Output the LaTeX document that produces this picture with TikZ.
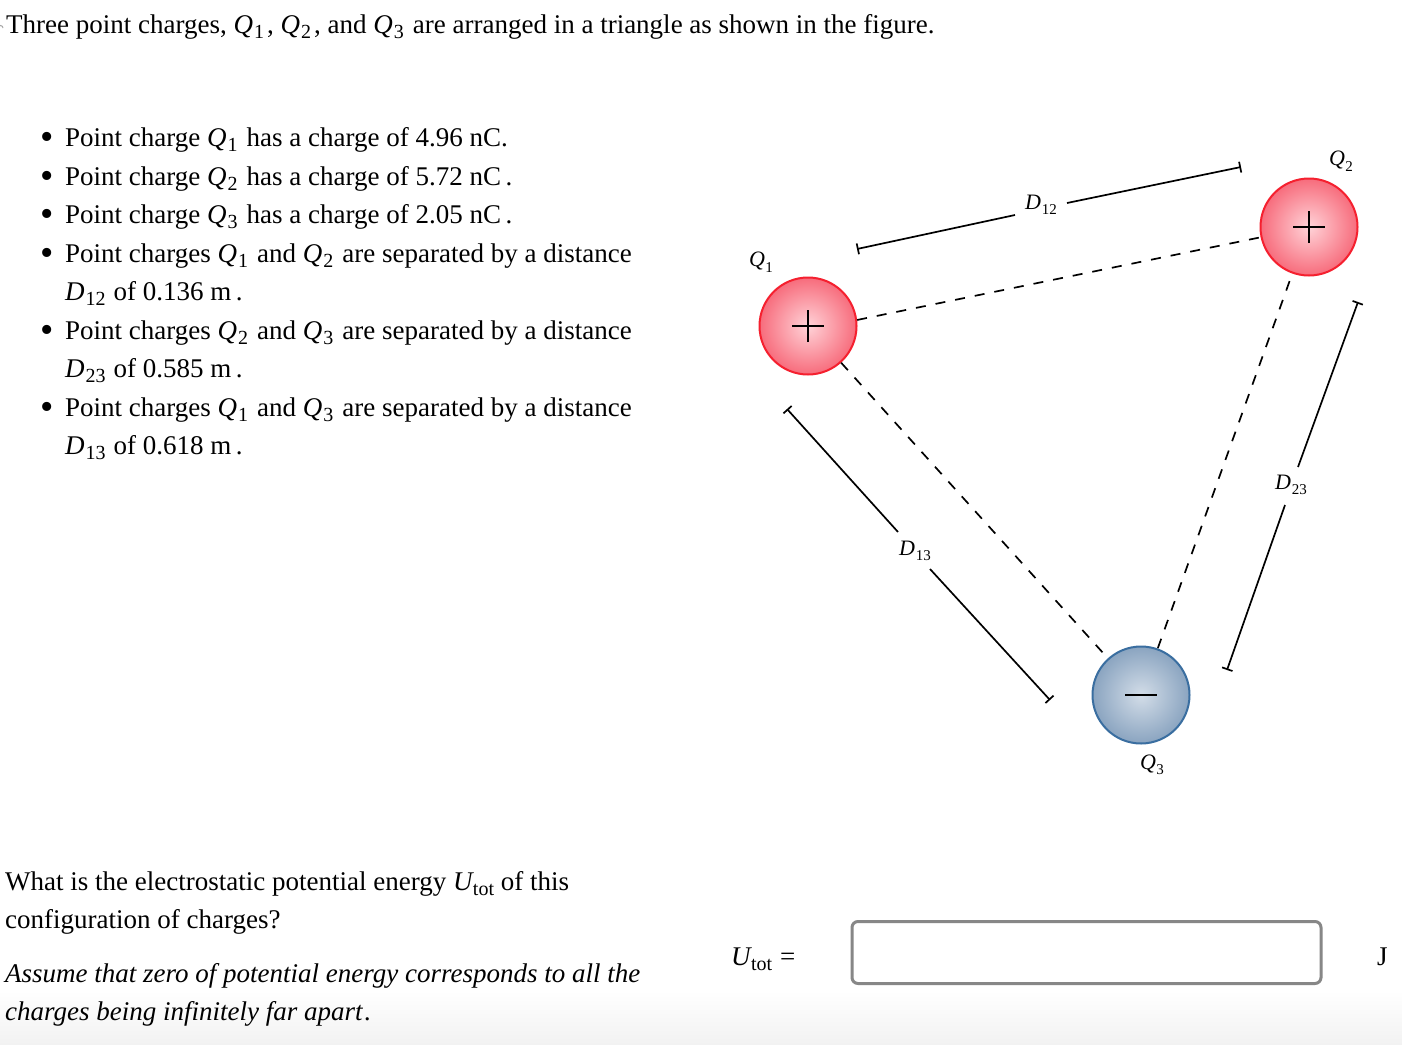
\documentclass[tikz,border=0pt]{standalone}
\usepackage{fontspec}
\setmainfont{Liberation Serif}
\usetikzlibrary{arrows.meta}
\definecolor{redIn}{HTML}{FFD3D8}
\definecolor{redOut}{HTML}{F76C7C}
\definecolor{redLine}{HTML}{F5202F}
\definecolor{blueIn}{HTML}{D3DDE8}
\definecolor{blueOut}{HTML}{8AA4C0}
\definecolor{blueLine}{HTML}{3A6EA0}
\pgfdeclareradialshading{redball}{\pgfpoint{0bp}{0bp}}{color(0bp)=(redIn); color(25bp)=(redOut); color(50bp)=(redOut)}
\pgfdeclareradialshading{blueball}{\pgfpoint{0bp}{0bp}}{color(0bp)=(blueIn); color(25bp)=(blueOut); color(50bp)=(blueOut)}
\newcommand{\Qq}[1]{\textit{Q}\kern1pt\raisebox{-5pt}{\fontsize{20}{20}\selectfont #1}\kern3pt}
\newcommand{\Qs}[1]{\textit{Q}\kern1pt\raisebox{-5pt}{\fontsize{20}{20}\selectfont #1}\kern9pt}
\newcommand{\Dd}[1]{\textit{D}\kern1pt\raisebox{-5pt}{\fontsize{20}{20}\selectfont #1}\kern8pt}
\newcommand{\Ut}{\textit{U}\kern-1pt\raisebox{-5pt}{\fontsize{20}{20}\selectfont tot}}
\newcommand{\Fq}[1]{\textit{Q}\kern.5pt\raisebox{-5.5pt}{\fontsize{15}{15}\selectfont #1}}
\newcommand{\Fd}[1]{\textit{D}\kern1pt\raisebox{-5pt}{\fontsize{15}{15}\selectfont #1}}
\tikzset{
 txt/.style={anchor=base west,inner sep=0pt,font=\fontsize{27}{27}\selectfont},
 bulletmark/.style={anchor=base west,inner sep=0pt,font=\fontsize{38}{38}\selectfont},
 lbl/.style={inner sep=3pt,font=\fontsize{22}{22}\selectfont},
 redq/.style={circle,minimum size=97pt,inner sep=0pt,draw=redLine,line width=2pt,shading=redball},
 blueq/.style={circle,minimum size=97pt,inner sep=0pt,draw=blueLine,line width=2pt,shading=blueball},
 sep/.style={line width=1.7pt,dash pattern=on 10pt off 10pt},
 dim/.style={line width=1.7pt,-{Bar[width=11pt,line width=1.7pt]}},
 sign/.style={line width=2.8pt}
}
\begin{document}
\begin{tikzpicture}[x=1pt,y=-1pt]
\useasboundingbox (0,0) rectangle (1402,1044);
\fill[white] (0,0) rectangle (1402,1044);
\shade[top color=white,bottom color=black!5,draw=none] (0,990) rectangle (1402,1044);
\draw[gray!70,line width=1pt] (3,28) arc (0:-160:2.5);

\node[txt] (title) at (6,33) {Three point charges, \Qq{1}, \Qq{2}, and \Qs{3}are arranged in a triangle as shown in the figure.};

\foreach \n/\y in {1/149.5,2/188.5,3/226.5,4/265.5,5/342.5,6/419.5}
  \node[bulletmark] (bul\n) at (40.4,\y) {•};
\node[txt] (l1) at (65,146) {Point charge \Qs{1}has a charge of 4.96 nC.};
\node[txt] (l2) at (65,185) {Point charge \Qs{2}has a charge of 5.72 nC\,.};
\node[txt] (l3) at (65,223) {Point charge \Qs{3}has a charge of 2.05 nC\,.};
\node[txt] (l4) at (65,262) {Point charges \Qs{1}and \Qs{2}are separated by a distance};
\node[txt] (l5) at (65,300) {\Dd{12}of 0.136 m\,.};
\node[txt] (l6) at (65,339) {Point charges \Qs{2}and \Qs{3}are separated by a distance};
\node[txt] (l7) at (65,377.5) {\Dd{23}of 0.585 m\,.};
\node[txt] (l8) at (65,416) {Point charges \Qs{1}and \Qs{3}are separated by a distance};
\node[txt] (l9) at (65,454.5) {\Dd{13}of 0.618 m\,.};

\node[txt] (w1) at (5,890) {What is the electrostatic potential energy \Ut{} of this};
\node[txt] (w2) at (5,928) {configuration of charges?};
\node[txt,font=\fontsize{27}{27}\selectfont\itshape] (w3) at (5,982) {Assume that zero of potential energy corresponds to all the};
\node[txt,font=\fontsize{27}{27}\selectfont\itshape] (w4) at (5,1020) {charges being infinitely far apart\kern2pt.};

\node[txt] (ulabel) at (731,965) {\Ut{}\kern1pt{} =};
\node[draw=black!47,line width=3pt,rounded corners=6pt,minimum width=469pt,minimum height=62pt,inner sep=0pt] (answer) at (1086.5,952.5) {};
\node[txt] (unit) at (1377,965) {J};

\node[redq] (Q1) at (808,326) {};
\node[redq] (Q2) at (1309,227) {};
\node[blueq] (Q3) at (1141,695) {};
\draw[sign] ([xshift=-16pt]Q1.center) -- ([xshift=16pt]Q1.center);
\draw[sign] ([yshift=-16pt]Q1.center) -- ([yshift=16pt]Q1.center);
\draw[sign] ([xshift=-16pt]Q2.center) -- ([xshift=16pt]Q2.center);
\draw[sign] ([yshift=-16pt]Q2.center) -- ([yshift=16pt]Q2.center);
\draw[sign] ([xshift=-16pt]Q3.center) -- ([xshift=16pt]Q3.center);

\draw[sep] (Q1.7) -- (Q2.192);
\draw[sep,shorten <=8pt] (Q2) -- (Q3);
\draw[sep,shorten >=4pt] (Q1) -- (Q3);

\node[lbl] (nQ1) at (761,262) {\Fq{1}};
\node[lbl] (nQ2) at (1341,161) {\Fq{2}};
\node[lbl] (nQ3) at (1152,765) {\Fq{3}};
\node[lbl] (D12) at (1041,205) {\Fd{12}};
\node[lbl] (D13) at (915,551) {\Fd{13}};
\node[lbl] (D23) at (1291,485) {\Fd{23}};

\coordinate (a12) at (857,249);
\coordinate (b12) at (1241,167);
\coordinate (a13) at (787,409);
\coordinate (b13) at (1050,700);
\coordinate (a23) at (1358,302);
\coordinate (b23) at (1227,670);
\draw[dim] ([shift={(-26,10)}]D12.center) -- (a12);
\draw[dim] ([shift={(26,-2)}]D12.center) -- (b12);
\draw[dim] ([shift={(-17,-19)}]D13.center) -- (a13);
\draw[dim] ([shift={(15,18)}]D13.center) -- (b13);
\draw[dim] ([shift={(7,-18)}]D23.center) -- (a23);
\draw[dim] ([shift={(-6,20)}]D23.center) -- (b23);
\end{tikzpicture}
\end{document}
